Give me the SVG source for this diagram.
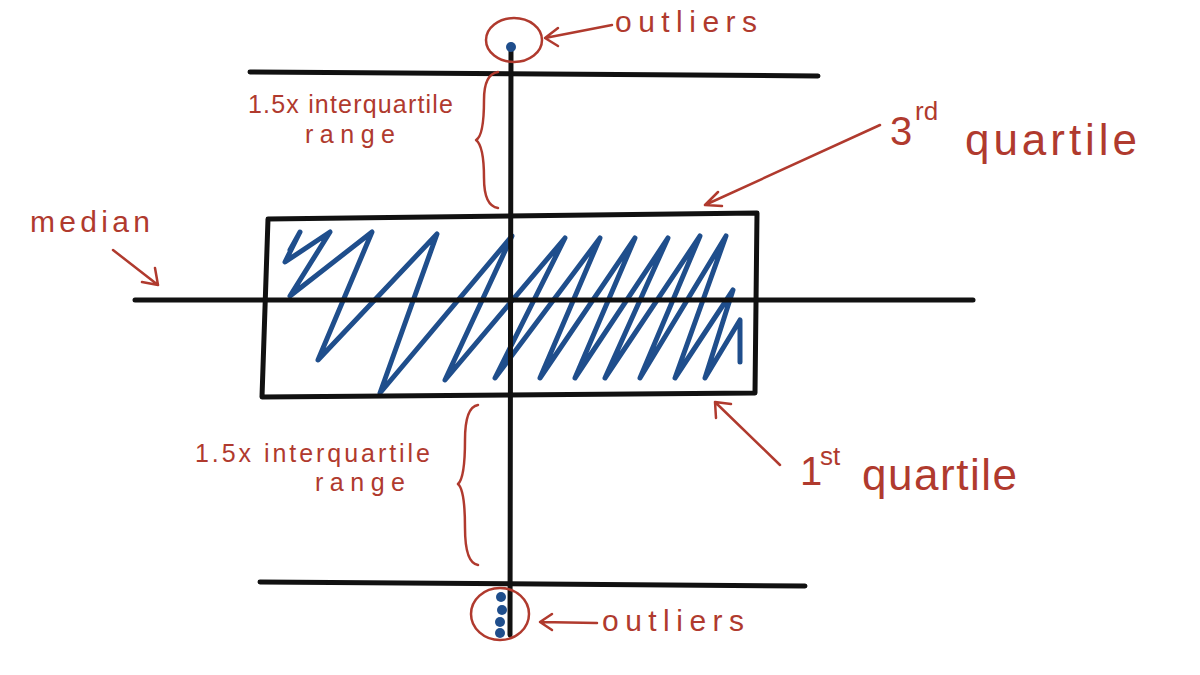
<svg xmlns="http://www.w3.org/2000/svg" width="1200" height="675" viewBox="0 0 1200 675">
<style>
.k{fill:none;stroke:#111;stroke-width:5;stroke-linecap:round;stroke-linejoin:round}
.r{fill:none;stroke:#b03a2e;stroke-width:2.5;stroke-linecap:round;stroke-linejoin:round}
.b{fill:none;stroke:#1f4e8c;stroke-width:5;stroke-linecap:round;stroke-linejoin:round}
.t{fill:#b03a2e;font-family:"Liberation Sans",sans-serif}
</style>
<rect width="1200" height="675" fill="#fff"/>
<path class="b" d="M290,250 L300,232 L285,262 L330,232 L290,296 L372,232 L318,360 L437,234 L380,393 L512,236 L445,380 L565,238 L495,378 L600,238 L540,378 L635,238 L575,378 L668,238 L605,378 L700,236 L640,378 L726,236 L675,378 L733,290 L705,378 L740,320 L740,362"/>
<path class="k" d="M250,72 L818,76"/>
<path class="k" d="M260,582 L805,586"/>
<path class="k" d="M135,300 L973,300"/>
<path class="k" d="M511,45 L510,635"/>
<path class="k" d="M268,219 L757,213 L755,393 L262,397 Z"/>
<circle cx="511" cy="47" r="5" fill="#1f4e8c"/>
<g fill="#1f4e8c"><circle cx="501" cy="597" r="5"/><circle cx="502" cy="610" r="5"/><circle cx="500" cy="622" r="5"/><circle cx="500" cy="633" r="5"/></g>
<ellipse class="r" cx="514" cy="40" rx="28" ry="22"/>
<ellipse class="r" cx="500" cy="614" rx="29" ry="26"/>
<path class="r" d="M612,25 L545,38 M558,28 L545,38 L558,46"/>
<path class="r" d="M597,623 L540,622 M552,614 L540,622 L552,630"/>
<path class="r" d="M880,125 L705,205 M718,192 L705,205 L722,206"/>
<path class="r" d="M113,250 L158,285 M155,268 L158,285 L142,282"/>
<path class="r" d="M780,465 L715,402 M716,418 L715,402 L731,404"/>
<path class="r" d="M498,72 Q484,74 484,100 Q484,136 476,140 Q484,146 484,178 Q484,206 498,208"/>
<path class="r" d="M478,405 Q465,407 465,440 Q465,478 458,484 Q465,490 465,528 Q465,563 478,565"/>
<text class="t" x="615" y="32" font-size="30" textLength="142">outliers</text>
<text class="t" x="602" y="631" font-size="30" textLength="142">outliers</text>
<text class="t" x="248" y="113" font-size="25" textLength="205">1.5x  interquartile</text>
<text class="t" x="305" y="143" font-size="25" textLength="90">range</text>
<text class="t" x="195" y="462" font-size="25" textLength="235">1.5x interquartile</text>
<text class="t" x="315" y="491" font-size="25" textLength="90">range</text>
<text class="t" x="30" y="232" font-size="30" textLength="120">median</text>
<text class="t" x="890" y="145" font-size="40">3</text>
<text class="t" x="915" y="120" font-size="26">rd</text>
<text class="t" x="965" y="155" font-size="44" textLength="172">quartile</text>
<text class="t" x="800" y="485" font-size="40">1</text>
<text class="t" x="820" y="465" font-size="26">st</text>
<text class="t" x="862" y="490" font-size="44" textLength="155">quartile</text>
</svg>
